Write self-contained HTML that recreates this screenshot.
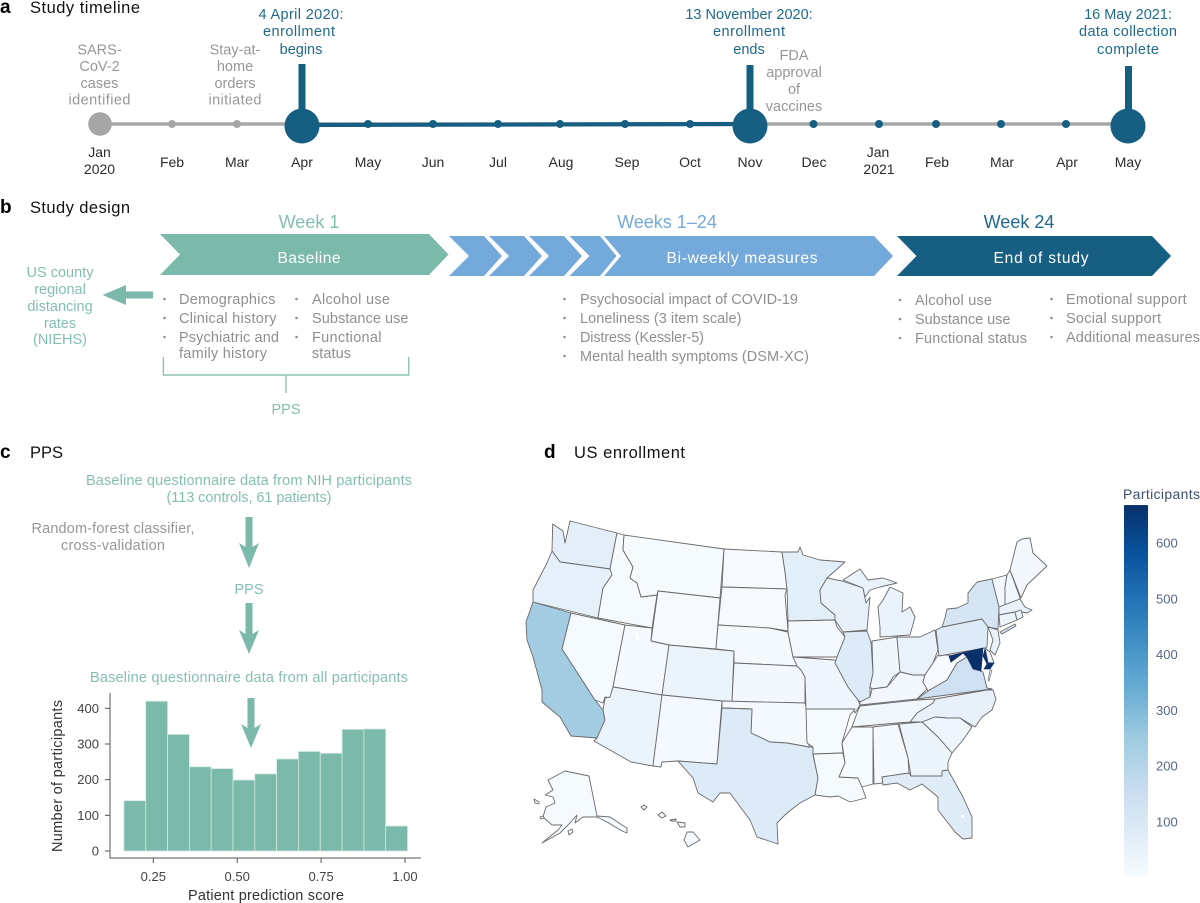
<!DOCTYPE html>
<html lang="en">
<head>
<meta charset="utf-8">
<title>Study overview figure</title>
<style>
html,body{margin:0;padding:0;background:#fff}
svg{display:block}
text{font-family:"Liberation Sans",sans-serif;font-size:14.5px}
.m{text-anchor:middle}
.grey{fill:#979797}
.green{fill:#83bfb1}
.blue{fill:#1f6a8c}
.sky{fill:#74a9db}
.month{fill:#2b2b2b;font-size:14px;text-anchor:middle}
.head{fill:#111;font-size:16.5px}
.tag{fill:#000;font-size:19px;font-weight:bold}
.li{fill:#8f8f8f}
.dot{fill:#8f8f8f}
.tick{fill:#444;font-size:13px}
.cb{fill:#566685;font-size:13px}
</style>
</head>
<body>
<svg id="figure" width="1200" height="903" viewBox="0 0 1200 903" xmlns="http://www.w3.org/2000/svg">

<!-- Panel a -->
<g>
<text class="tag" x="0" y="13">a</text>
<text class="head" x="30" y="13" textLength="110">Study timeline</text>
<line x1="100" y1="124" x2="1128" y2="124" stroke="#a6a6a6" stroke-width="3.4"/>
<line x1="302" y1="125" x2="750" y2="124" stroke="#165f82" stroke-width="4.2"/>
<g fill="#165f82">
<rect x="298.500" y="64" width="7" height="52"/>
<rect x="746.500" y="65" width="7" height="52"/>
<rect x="1125" y="66" width="7" height="52"/>
</g>
<circle cx="100" cy="124" r="11.800" fill="#a6a6a6"/>
<circle cx="172" cy="124" r="4" fill="#a6a6a6"/>
<circle cx="237" cy="124" r="4" fill="#a6a6a6"/>
<circle cx="302" cy="126" r="17.500" fill="#165f82"/>
<circle cx="368" cy="124" r="4" fill="#165f82"/>
<circle cx="433" cy="124" r="4" fill="#165f82"/>
<circle cx="498" cy="124" r="4" fill="#165f82"/>
<circle cx="560" cy="124" r="4" fill="#165f82"/>
<circle cx="625" cy="124" r="4" fill="#165f82"/>
<circle cx="690" cy="124" r="4" fill="#165f82"/>
<circle cx="750" cy="126" r="17.500" fill="#165f82"/>
<circle cx="813.500" cy="124" r="4" fill="#165f82"/>
<circle cx="879" cy="124" r="4" fill="#165f82"/>
<circle cx="936" cy="124" r="4" fill="#165f82"/>
<circle cx="1001" cy="124" r="4" fill="#165f82"/>
<circle cx="1066" cy="124" r="4" fill="#165f82"/>
<circle cx="1128" cy="126" r="17.500" fill="#165f82"/>

<g>
<text class="m grey" x="99.500" y="54.500">SARS-</text>
<text class="m grey" x="99.500" y="71">CoV-2</text>
<text class="m grey" x="99.500" y="88">cases</text>
<text class="m grey" x="99.500" y="104.500" textLength="62">identified</text>
</g>
<g>
<text class="m grey" x="235" y="54.500">Stay-at-</text>
<text class="m grey" x="235" y="71">home</text>
<text class="m grey" x="235" y="88">orders</text>
<text class="m grey" x="235" y="104.500" textLength="53">initiated</text>
</g>
<g>
<text class="m blue" x="301" y="19" textLength="85">4 April 2020:</text>
<text class="m blue" x="299" y="36" textLength="72">enrollment</text>
<text class="m blue" x="301" y="54">begins</text>
</g>
<g>
<text class="m blue" x="749" y="19">13 November 2020:</text>
<text class="m blue" x="749" y="36" textLength="72">enrollment</text>
<text class="m blue" x="749" y="54">ends</text>
</g>
<g>
<text class="m grey" x="794" y="60">FDA</text>
<text class="m grey" x="794" y="77">approval</text>
<text class="m grey" x="794" y="94">of</text>
<text class="m grey" x="794" y="111">vaccines</text>
</g>
<g>
<text class="m blue" x="1128" y="19">16 May 2021:</text>
<text class="m blue" x="1128" y="36" textLength="98">data collection</text>
<text class="m blue" x="1128" y="54" textLength="62">complete</text>
</g>
<g>
<text class="month" x="99.500" y="157">Jan</text>
<text class="month" x="99.500" y="174">2020</text>
<text class="month" x="172" y="167">Feb</text>
<text class="month" x="237" y="167">Mar</text>
<text class="month" x="302" y="167">Apr</text>
<text class="month" x="368" y="167">May</text>
<text class="month" x="433" y="167">Jun</text>
<text class="month" x="498" y="167">Jul</text>
<text class="month" x="561" y="167">Aug</text>
<text class="month" x="627" y="167">Sep</text>
<text class="month" x="690" y="167">Oct</text>
<text class="month" x="750" y="167">Nov</text>
<text class="month" x="814" y="167">Dec</text>
<text class="month" x="878" y="157">Jan</text>
<text class="month" x="879" y="174">2021</text>
<text class="month" x="937" y="167">Feb</text>
<text class="month" x="1002" y="167">Mar</text>
<text class="month" x="1067" y="167">Apr</text>
<text class="month" x="1128" y="167">May</text>
</g>
</g>

<!-- Panel b -->
<g>
<text class="tag" x="0" y="213">b</text>
<text class="head" x="30" y="213" textLength="100">Study design</text>
<text class="m green" x="309" y="228" style="font-size:18px">Week 1</text>
<text class="m sky" x="667" y="228" style="font-size:18px">Weeks 1–24</text>
<text class="m blue" x="1019" y="228" style="font-size:18px">Week 24</text>
<polygon points="160,234 429,234 448.500,254.500 429,275 160,275 180,254.500" fill="#7bb9aa"/>
<g fill="#74a9db">
<polygon points="449,236 484,236 502,256 484,276 449,276 469,256"/>
<polygon points="489,236 524,236 542,256 524,276 489,276 509,256"/>
<polygon points="529,236 564,236 582,256 564,276 529,276 549,256"/>
<polygon points="569.500,236 600,236 616.500,256 600,276 569.500,276 589.500,256"/>
<polygon points="604,236 874,236 893,256 874,276 604,276 621,256"/>
</g>
<polygon points="897,236 1152,236 1171,256 1152,276 897,276 916.500,256" fill="#165f82"/>
<text class="m" x="309" y="263" textLength="63" fill="#fff" style="font-size:15.500px">Baseline</text>
<text class="m" x="742" y="263" textLength="151" fill="#fff" style="font-size:15.500px">Bi-weekly measures</text>
<text class="m" x="1041" y="263" textLength="95" fill="#fff" style="font-size:15.500px">End of study</text>

<g>
<text class="m green" x="60" y="277">US county</text>
<text class="m green" x="60" y="294">regional</text>
<text class="m green" x="60" y="311">distancing</text>
<text class="m green" x="60" y="328">rates</text>
<text class="m green" x="60" y="344">(NIEHS)</text>
</g>
<polygon points="153,291.500 126,291.500 126,285 102.500,295 126,305 126,298.500 153,298.500" fill="#7bb9aa"/>

<g>
<circle class="dot" cx="164.500" cy="299" r="1.300"/>
<circle class="dot" cx="164.500" cy="318" r="1.300"/>
<circle class="dot" cx="164.500" cy="337" r="1.300"/>
<circle class="dot" cx="296.500" cy="299" r="1.300"/>
<circle class="dot" cx="296.500" cy="318" r="1.300"/>
<circle class="dot" cx="296.500" cy="337" r="1.300"/>
<text class="li" x="179" y="304" textLength="96.500">Demographics</text>
<text class="li" x="179" y="323" textLength="97.500">Clinical history</text>
<text class="li" x="179" y="342" textLength="100">Psychiatric and</text>
<text class="li" x="179" y="358" textLength="88">family history</text>
<text class="li" x="312" y="304" textLength="78">Alcohol use</text>
<text class="li" x="312" y="323" textLength="96.500">Substance use</text>
<text class="li" x="312" y="342" textLength="69.500">Functional</text>
<text class="li" x="312" y="358" textLength="39">status</text>
</g>
<path d="M163.400 357V375H408.700V357M286 375V393" fill="none" stroke="#8cc4b6" stroke-width="1.400"/>
<text class="m green" x="286" y="414">PPS</text>

<g>
<circle class="dot" cx="564.500" cy="299" r="1.300"/>
<circle class="dot" cx="564.500" cy="318" r="1.300"/>
<circle class="dot" cx="564.500" cy="337" r="1.300"/>
<circle class="dot" cx="564.500" cy="356" r="1.300"/>
<text class="li" x="580" y="304" textLength="218">Psychosocial impact of COVID-19</text>
<text class="li" x="580" y="323" textLength="161.500">Loneliness (3 item scale)</text>
<text class="li" x="580" y="342" textLength="124">Distress (Kessler-5)</text>
<text class="li" x="580" y="361" textLength="229">Mental health symptoms (DSM-XC)</text>
</g>
<g>
<circle class="dot" cx="900" cy="300" r="1.300"/>
<circle class="dot" cx="900" cy="319" r="1.300"/>
<circle class="dot" cx="900" cy="338" r="1.300"/>
<circle class="dot" cx="1051.500" cy="299" r="1.300"/>
<circle class="dot" cx="1051.500" cy="318" r="1.300"/>
<circle class="dot" cx="1051.500" cy="337" r="1.300"/>
<text class="li" x="915" y="305" textLength="77">Alcohol use</text>
<text class="li" x="915" y="324" textLength="95.500">Substance use</text>
<text class="li" x="915" y="343" textLength="112">Functional status</text>
<text class="li" x="1066" y="304" textLength="120.700">Emotional support</text>
<text class="li" x="1066" y="323" textLength="95">Social support</text>
<text class="li" x="1066" y="342" textLength="134">Additional measures</text>
</g>
</g>

<!-- Panel c -->
<g>
<text class="tag" x="0" y="458">c</text>
<text class="head" x="30" y="458">PPS</text>
<text class="m green" x="249" y="485" textLength="326">Baseline questionnaire data from NIH participants</text>
<text class="m green" x="249" y="502" textLength="165">(113 controls, 61 patients)</text>
<text class="m grey" x="113" y="533" textLength="163">Random-forest classifier,</text>
<text class="m grey" x="113" y="550" textLength="104">cross-validation</text>
<polygon points="245.500,517 252.500,517 252.500,547 259,543 249,568 239,543 245.500,547" fill="#7bb9aa"/>
<text class="m green" x="249" y="594">PPS</text>
<polygon points="245.500,603 252.500,603 252.500,634 259,630 249,654 239,630 245.500,634" fill="#7bb9aa"/>
<text class="m green" x="249" y="682" textLength="318">Baseline questionnaire data from all participants</text>
<polygon points="247.500,698 254.500,698 254.500,728 261,724 251,748 241,724 247.500,728" fill="#7bb9aa"/>
<g id="histogram"></g>
</g>

<!-- Panel d -->
<g>
<text class="tag" x="544" y="458">d</text>
<text class="head" x="574" y="458" textLength="111">US enrollment</text>
<g id="map"></g>
<g id="colorbar"></g>
</g>
</svg>

<script>
/* Histogram data */
var binStart = 0.1625;
var binWidth = 0.065;
var participantCounts = [141, 420, 327, 236, 231, 199, 216, 258, 279, 274, 341, 342, 70];
var xTickValues = [0.25, 0.5, 0.75, 1];
var xTickLabels = ['0.25', '0.50', '0.75', '1.00'];
var yTickValues = [0, 100, 200, 300, 400];

/* Map data */
var stateCodes = ['WA','OR','CA','NV','ID','MT','WY','UT','CO','AZ','NM','ND','SD','NE','KS','OK','TX','MN','IA','MO','AR','LA','WI','IL','IN','OH','MI','MIU','KY','WV','VA','NC','TN','SC','GA','AL','MS','FL','PA','NY','LI','NJ','DE','VT','NH','ME','MA','CT','RI','AK','AK2','AK3','AK4','HI1','HI2','HI3','HI4','HI5'];
var stateParticipants = [68,58,240,8,8,8,6,14,40,38,14,5,6,10,18,10,88,70,14,26,8,8,52,88,28,48,45,45,22,6,140,52,24,30,34,10,8,82,88,115,115,48,35,16,24,18,48,40,40,8,8,8,8,12,12,12,12,12];

/* Colour scale data */
var colorStops = ['#f7fbff','#deebf7','#c6dbef','#9ecae1','#6baed6','#4292c6','#2171b5','#08519c','#08306b'];
var colorDomainMin = 1;
var colorDomainMax = 668;
var colorTickValues = [100, 200, 300, 400, 500, 600];

/* Outline geometry of each region, keyed to stateCodes */
var outlines = {
WA:'552.7,524 563,531 565,543 570,521 617,533 610,569 582,565 560,562 552,551',
OR:'552,551 560,562 582,565 610,569 612,575 603,588 598,618 533,602 533,590 547,563',
CA:'533,602 571,613 562,649 595,700 603,710 605,720 597,738 571,736 560,717 542,702 542,690 533,657 527,640 526,622',
NV:'571,613 625,625 613,687 610,698 605,697 603,703 595,700 562,649',
ID:'617,533 624,535 623,550 633,567 630,578 637,583 641,597 657,595 652,628 598,618 603,588 612,575 610,569',
MT:'624,535 724,549 720,598 658,591 657,595 641,597 637,583 630,578 633,567 623,550',
WY:'658,591 720,598 716,649 669,645 651,641',
UT:'625,625 652,628 651,641 669,645 662,695 613,687',
CO:'669,645 734,651 732,702 662,695',
AZ:'613,687 662,695 653,766 631,762 594,741 597,738 605,720 603,710 605,698 610,697',
NM:'662,695 722,701 717,764 678,761 662,762 661,767 653,766',
ND:'724,549 782,552 785,572 787,589 722,587',
SD:'722,587 787,589 785,595 788,631 770,628 718,625',
NE:'718,625 770,628 788,632 793,657 797,666 734,663 734,651 716,649',
KS:'734,663 797,666 801,670 805,677 805,703 732,702',
OK:'722,701 805,703 807,710 809,747 787,743 770,742 751,733 752,709 722,708',
TX:'722,708 752,709 751,733 770,742 787,743 809,747 813,747 813,755 818,778 815,795 800,803 787,813 777,823 778,844 757,837 750,820 730,793 720,793 713,802 698,793 693,778 678,761 717,764',
MN:'782,552 798,552 800,547 803,555 820,560 833,561 845,562 827,578 820,590 821,603 835,615 835,620 788,621 787,589 785,572',
IA:'788,621 835,620 837,627 845,637 837,657 793,657 788,632',
MO:'793,657 835,660 847,680 848,687 858,700 860,705 855,713 853,709 806,709 805,677 801,670 797,666',
AR:'806,709 855,709 850,715 842,743 843,753 813,754 813,747 807,743',
LA:'813,754 843,753 845,763 839,777 858,778 862,787 866,798 850,802 838,796 830,797 815,795 818,778',
WI:'827,578 842,581 863,588 866,603 870,597 867,630 843,632 835,620 835,615 821,603 820,590',
IL:'843,632 867,631 871,642 873,673 870,687 870,697 860,702 858,700 848,687 835,663 837,657 845,637',
IN:'872,641 897,637 900,672 893,677 887,687 872,689 870,687 873,673',
OH:'897,637 910,637 920,637 935,630 938,650 933,663 925,675 913,675 900,672',
MI:'880,637 910,635 915,617 910,607 902,612 903,593 890,587 883,600 878,607 880,627',
MIU:'843,580 860,569 868,580 883,578 897,583 880,587 870,590 865,597 863,588',
KY:'870,697 872,689 887,687 900,672 913,675 925,675 923,682 928,688 917,699 870,704 860,705 860,702',
WV:'925,675 933,663 938,655 949,655 951,662 963,653 967,657 957,663 947,680 928,691 923,682',
VA:'928,691 947,680 957,663 967,657 973,668 983,672 987,688 992,689 917,699',
NC:'918,700 935,699 987,690 993,690 996,699 992,710 982,717 975,727 960,718 947,718 935,717 922,722 910,722 917,713 933,703',
TN:'860,706 917,700 935,699 933,703 917,713 910,722 897,723 852,727 857,713',
SC:'922,722 935,717 947,718 960,718 972,727 963,740 952,753 938,737',
GA:'899,724 922,722 938,737 952,753 948,762 948,770 942,771 942,776 911,776 908,758',
AL:'873,727 898,724 908,758 909,773 882,777 883,783 874,784',
MS:'852,727 873,727 873,784 862,787 858,778 839,777 845,763 842,743',
FL:'882,777 909,773 911,776 942,776 942,771 948,770 963,797 972,817 972,838 963,839 955,832 938,810 938,797 922,784 910,790 897,783 883,785',
PA:'936,630 942,627 982,619 988,627 987,647 985,648 939,656',
NY:'942,627 982,619 988,627 998,629 999,607 992,579 977,582 968,593 968,603 957,608 947,609 945,618',
LI:'1000,632 1015,624 1016,626 1002,634',
NJ:'988,627 998,630 1000,643 995,655 990,650 993,640',
DE:'985,648 990,652 994,663 988,663',
VT:'992,579 1007,575 1005,587 1005,605 999,607',
NH:'1007,575 1010,570 1020,598 1018,602 1005,605 1005,587',
ME:'1010,570 1017,542 1022,539 1030,538 1033,553 1047,566 1027,585 1021,598',
MA:'999,607 1020,599 1025,607 1032,610 1027,613 1022,612 1015,612 999,615',
CT:'999,615 1015,612 1017,620 1000,627',
RI:'1015,612 1021,610 1023,617 1017,620',
AK:'565,771 589,776 597,816 610,817 622,825 627,828 627,833 622,831 607,822 597,817 583,817 575,823 577,815 570,823 560,833 542,843 558,830 562,825 552,825 543,817 546,807 555,803 553,797 545,795 553,790 548,780',
AK2:'534,799 539,802 539,804 535,803',
AK3:'540,817 543,816 544,818 541,819',
AK4:'568,831 572,829 573,832 569,835',
HI1:'687,832 693,832 700,840 688,847 684,840',
HI2:'677,822 685,823 685,827 680,827',
HI3:'658,815 662,812 666,816 662,818',
HI4:'641,807 644,805 647,807 644,810',
HI5:'670,820 676,819 676,821 671,821'
};

var NS = 'http://www.w3.org/2000/svg';
function make(tag, attrs, parent, text) {
  var el = document.createElementNS(NS, tag);
  for (var k in attrs) { el.setAttribute(k, attrs[k]); }
  if (text !== undefined) { el.textContent = text; }
  parent.appendChild(el);
  return el;
}

/* Histogram axes */
function xScale(v) { return 153.3 + (v - 0.25) * 335.6; }
function yScale(v) { return 851 - v * 0.3567; }

var hist = document.getElementById('histogram');
participantCounts.forEach(function (count, i) {
  var x0 = xScale(binStart + i * binWidth);
  var x1 = xScale(binStart + (i + 1) * binWidth);
  var bar = make('rect', {x: x0, y: yScale(count), width: x1 - x0, height: yScale(0) - yScale(count), fill: '#7bb9aa', stroke: '#d3e8e2', 'stroke-width': 0.8}, hist);
  
  
});
var ySpine = make('line', {x1: 110, y1: 693, x2: 110, y2: 858.5, stroke: '#555', 'stroke-width': 1}, hist);


var xSpine = make('line', {x1: 109.5, y1: 858, x2: 421, y2: 858, stroke: '#555', 'stroke-width': 1}, hist);


xTickValues.forEach(function (v, i) {
  var mark = make('line', {x1: xScale(v), x2: xScale(v), y1: 858, y2: 863, stroke: '#555', 'stroke-width': 1}, hist);
  
  
  var label = make('text', {x: xScale(v), y: 881, 'class': 'tick m'}, hist, xTickLabels[i]);
  
  
});
yTickValues.forEach(function (v) {
  var mark = make('line', {x1: 105, x2: 110, y1: yScale(v), y2: yScale(v), stroke: '#555', 'stroke-width': 1}, hist);
  
  
  var label = make('text', {x: 99, y: yScale(v) + 4.5, 'class': 'tick', 'text-anchor': 'end'}, hist, String(v));
  
  
});
var xTitle = make('text', {x: 266, y: 900, 'class': 'm', fill: '#333', textLength: 156}, hist, 'Patient prediction score');


var yTitle = make('text', {x: 0, y: 0, 'class': 'm', fill: '#333', textLength: 152, transform: 'translate(62 776) rotate(-90)'}, hist, 'Number of participants');



/* Colour scale */
function hexToRgb(h) {
  return [parseInt(h.substr(1, 2), 16), parseInt(h.substr(3, 2), 16), parseInt(h.substr(5, 2), 16)];
}
function colorFor(v) {
  var t = Math.max(0, Math.min(1, (v - colorDomainMin) / (colorDomainMax - colorDomainMin))) * (colorStops.length - 1);
  var i = Math.min(Math.floor(t), colorStops.length - 2);
  var f = t - i;
  var a = hexToRgb(colorStops[i]);
  var b = hexToRgb(colorStops[i + 1]);
  return 'rgb(' + a.map(function (c, n) { return Math.round(c + (b[n] - c) * f); }).join(',') + ')';
}

/* Choropleth */
var mapGroup = document.getElementById('map');
stateCodes.forEach(function (code, i) {
  var shape = make('polygon', {points: outlines[code], fill: colorFor(stateParticipants[i]), stroke: '#6a6a6a', 'stroke-width': 0.9, 'stroke-linejoin': 'round'}, mapGroup);
  
  
});
var mdWest = make('polygon', {points: '949,656 983,648 982,660 981,671 973,669 967,657 963,653 951,662', fill: colorFor(668), stroke: '#1c3560', 'stroke-width': 0.7}, mapGroup);


var mdEast = make('polygon', {points: '985,649 988,663 994,663 990,669 984,669 987,664 983,656', fill: colorFor(668), stroke: '#1c3560', 'stroke-width': 0.7}, mapGroup);


var vaShore = make('polygon', {points: '990,670 992,670 989,681 988,680', fill: colorFor(140), stroke: '#6a6a6a', 'stroke-width': 0.6}, mapGroup);


var saltLake = make('polygon', {points: '635,632 638,635 640,641 636,639', fill: '#fff'}, mapGroup);


var okeechobee = make('rect', {x: 961, y: 815, width: 3, height: 3, fill: '#fff'}, mapGroup);



/* Colour bar */
function cbScale(v) { return 543 + (600 - v) * 0.558; }
var cb = document.getElementById('colorbar');
var defs = make('defs', {}, cb);
var grad = make('linearGradient', {id: 'cbGradient', x1: 0, y1: 1, x2: 0, y2: 0}, defs);
colorStops.forEach(function (c, i) {
  make('stop', {offset: i / (colorStops.length - 1), 'stop-color': c}, grad);
});
var cbRect = make('rect', {x: 1124, y: cbScale(colorDomainMax), width: 24, height: cbScale(colorDomainMin) - cbScale(colorDomainMax), fill: 'url(#cbGradient)'}, cb);


var cbTitle = make('text', {x: 1123, y: 499, fill: '#3c4f70', textLength: 77, style: 'font-size:14px'}, cb, 'Participants');


colorTickValues.forEach(function (v) {
  var label = make('text', {x: 1156, y: cbScale(v) + 4.5, 'class': 'cb'}, cb, String(v));
  
  
});
</script>
</body>
</html>
